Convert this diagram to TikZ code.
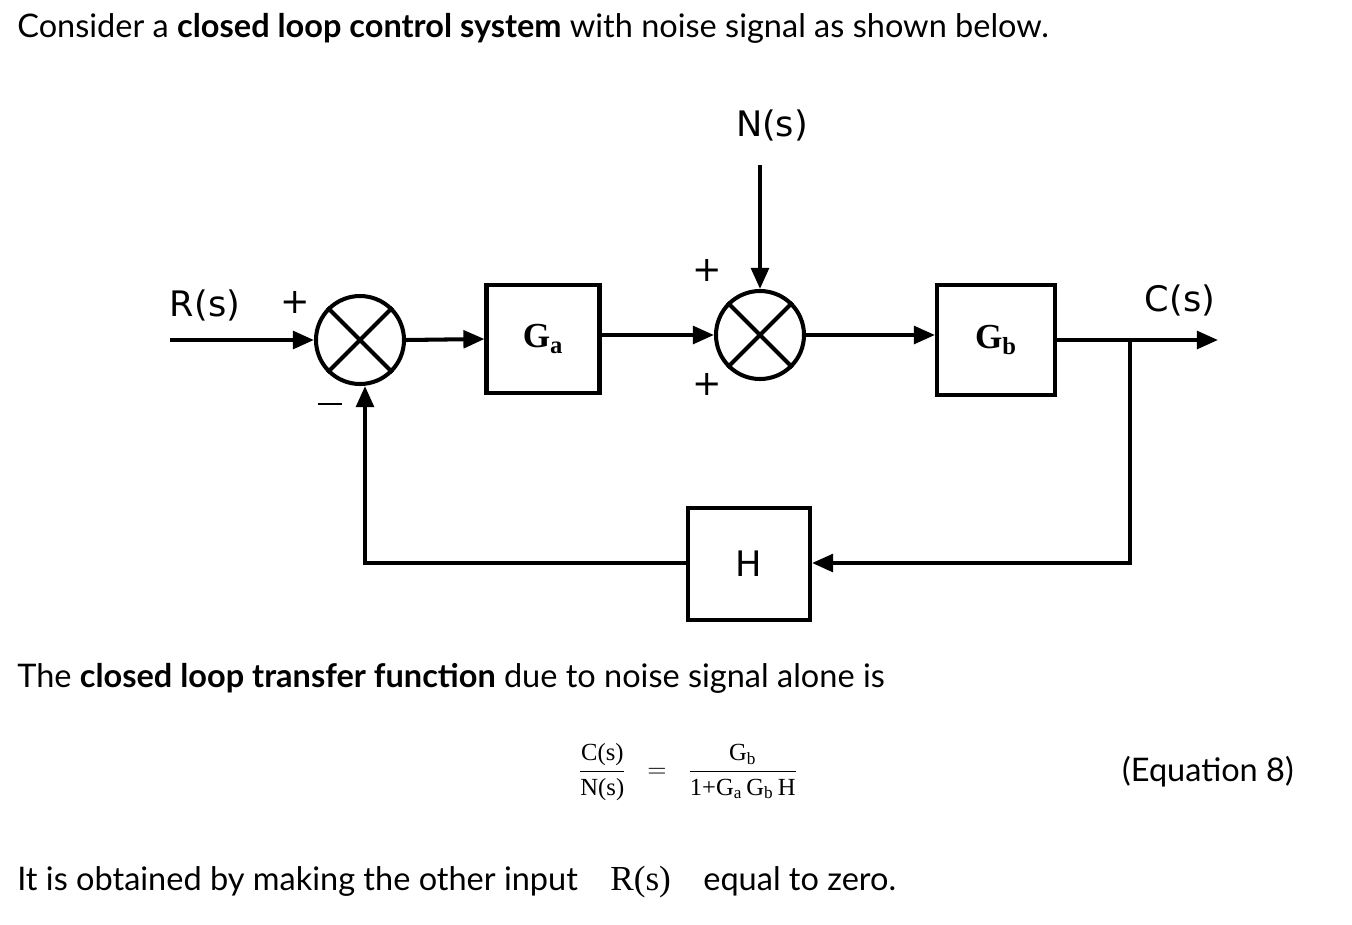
\documentclass[tikz,border=0pt]{standalone}
\usepackage{fontspec}
\setmainfont{Lato}
\newfontfamily\dv{DejaVu Sans}
\newfontfamily\ser{Liberation Serif}
\usetikzlibrary{arrows.meta}
\newcommand{\sr}[1]{\mbox{\ser #1}}
\begin{document}
\begin{tikzpicture}[x=0.02cm,y=-0.02cm,
  ln/.style={line width=2.3pt},
  ar/.style={ln,-{Triangle[length=12pt,width=10pt]}},
  sum/.style={draw,circle,line width=2.3pt,minimum size=88*0.02cm,inner sep=0},
  dl/.style={font=\dv\fontsize{20}{24}\selectfont},
  tx/.style={anchor=west,font=\fontsize{18.5}{22}\selectfont,inner sep=0}]
\useasboundingbox (0,0) rectangle (1352,924);
\node[tx] (t1) at (17,28) {Consider a \textbf{closed loop control system} with noise signal as shown below.};
\node[tx] (t2) at (17,678) {The \textbf{closed loop transfer function} due to noise signal alone is};
\node[tx] (t3) at (17,882) {It is obtained by making the other input\quad{\ser\fontsize{20}{24}\selectfont R(s)}\quad equal to zero.};
\node[tx,anchor=east] (t4) at (1294,772) {(Equation 8)};
\node (eq) at (688,772) {\fontsize{14}{16}\selectfont $\displaystyle\frac{\sr{C(s)}}{\sr{N(s)}}\;\;=\;\;\frac{\sr{G\textsubscript{b}}}{\sr{1+G\textsubscript{a}\,G\textsubscript{b}\,H}}$};
% blocks
\node[sum] (s1) at (360,340) {};
\node[sum] (s2) at (760,335) {};
\foreach \c in {s1,s2}{\draw[ln] (\c.45)--(\c.225) (\c.135)--(\c.315);}
\node[draw,line width=2.3pt,minimum width=113*0.02cm,minimum height=108*0.02cm] (ga) at (543,339) {\ser\fontsize{20}{24}\selectfont\textbf{G\textsubscript{a}}};
\node[draw,line width=2.3pt,minimum width=118*0.02cm,minimum height=110*0.02cm] (gb) at (996,340) {\ser\fontsize{20}{24}\selectfont\textbf{G\textsubscript{b}}};
\node[draw,line width=2.3pt,minimum width=122*0.02cm,minimum height=112*0.02cm] (h) at (749,564) {\dv\fontsize{20}{24}\selectfont H};
% labels
\node[dl] (r) at (205,305) {R(s)};
\node[dl] (n) at (772,125) {N(s)};
\node[dl] (c) at (1180,300) {C(s)};
\node[dl] (p1) at (295,302) {+};
\node[dl] (p2) at (707,270) {+};
\node[dl] (p3) at (707,384) {+};
\node[dl] (m1) at (330,404) {\rule{14pt}{1.4pt}};
% connectors
\coordinate (rin) at (170,340);
\coordinate (nin) at (760,165);
\coordinate (cout) at (1218,340);
\coordinate (tap) at (1130,340);
\coordinate (fb1) at (1130,563);
\coordinate (fb2) at (365,563);
\draw[ar] (rin) -- (s1.west);
\draw[ar] (s1.east) -- (ga.west);
\draw[ar] (ga.east|-s2.west) -- (s2.west);
\draw[ar] (nin) -- (s2.north);
\draw[ar] (s2.east) -- (gb.west|-s2.east);
\draw[ar] (gb.east) -- (cout);
\draw[ar] (tap) -- (fb1) -- (h.east|-fb1);
\draw[ar] (h.west|-fb2) -- (fb2) -- (fb2|-s1.south);
\end{tikzpicture}
\end{document}
